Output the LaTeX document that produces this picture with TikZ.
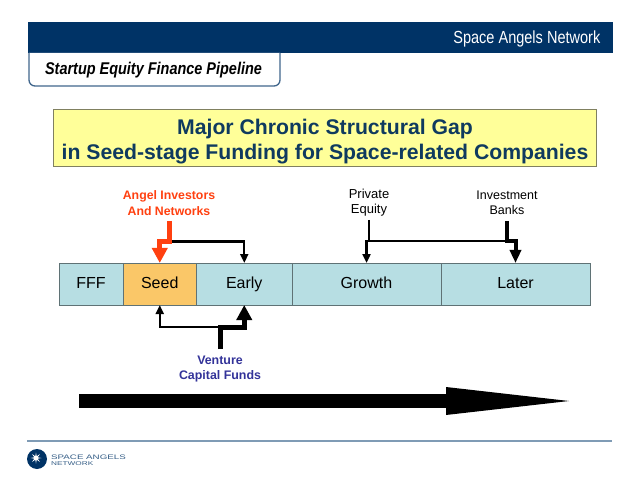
\documentclass[tikz,border=0pt]{standalone}
\usepackage{fontspec}
\setmainfont{Liberation Sans}
\usepackage{xcolor}
\usetikzlibrary{arrows.meta}
\usetikzlibrary{shapes.geometric}
\definecolor{navy}{HTML}{003366}
\definecolor{titleblue}{HTML}{0F3A5F}
\definecolor{gapyellow}{HTML}{FFFF99}
\definecolor{gapline}{HTML}{808060}
\definecolor{cellblue}{HTML}{B7DEE3}
\definecolor{cellorange}{HTML}{FAC768}
\definecolor{cellline}{HTML}{5F7275}
\definecolor{angelred}{HTML}{FF4010}
\definecolor{vcblue}{HTML}{333399}
\definecolor{footline}{HTML}{7F9BB5}
\newcommand{\px}[2]{\fontsize{#1bp}{#2bp}\selectfont}

\begin{document}
\begin{tikzpicture}[x=1bp,y=-1bp]
\tikzstyle{cell} =[draw=cellline,fill=cellblue,line width=1bp,inner sep=0pt,outer sep=0pt,minimum height=42bp,font=\px{16}{16},text height=11.5bp,text depth=3.5bp]
\tikzstyle{label} =[align=center,inner sep=0pt]
\tikzstyle{thinline} =[line width=2.4bp,-{Triangle[width=8bp,length=9bp]}]
\useasboundingbox (0,0) rectangle (638,478);
\node[fill=navy,minimum width=585bp,minimum height=31bp,inner sep=0pt](bar) at (320.5,37.5){};
\node[text=white,anchor=east,inner sep=0pt](brand) at (600.5,39){\px{17.5}{20}\addfontfeature{FakeStretch=0.83}Space Angels Network};
\draw [draw=navy!75!white,line width=1.3bp,fill=white,rounded corners=6bp] (29,53) -- (29,86) -- (280,86) -- (280,53);
\node[inner sep=0pt](pipeline) at (153.5,70.5){\px{17}{20}\addfontfeature{FakeStretch=0.85}\bfseries\itshape Startup Equity Finance Pipeline};
\node[draw=gapline,fill=gapyellow,line width=1bp,minimum width=542bp,minimum height=57bp,inner sep=0pt](gap) at (325,138.5){};
\node[label,text=titleblue,font=\px{21.2}{25}\bfseries](gaptext) at (325,141.5){Major Chronic Structural Gap\\in Seed-stage Funding for Space-related Companies};
\node[cell,minimum width=64bp](fff) at (91,284){FFF};
\node[cell,fill=cellorange,minimum width=73.5bp](seed) at (159.75,284){Seed};
\node[cell,minimum width=95.5bp](early) at (244.25,284){Early};
\node[cell,minimum width=149bp](growth) at (366.5,284){Growth};
\node[cell,minimum width=149bp](later) at (515.5,284){Later};
\node[label,text=angelred,font=\px{12.3}{16}\bfseries](angel) at (169,203){Angel Investors\\And Networks};
\node[label,font=\px{13}{15}](private) at (369,203){Private\\Equity};
\node[label,font=\px{12.5}{15}](banks) at (507,203){Investment\\Banks};
\node[label,text=vcblue,font=\px{12.4}{15}\bfseries](venture) at (220,369){Venture\\Capital Funds};
\coordinate (angeltop) at (169,221);
\coordinate (angelbend) at (169,241.5);
\coordinate (privatetop) at (369,220);
\coordinate (privatebend) at (369,241);
\coordinate (bankstop) at (507,221);
\coordinate (banksbend) at (507,241);
\coordinate (venturefoot) at (220,349);
\coordinate (venturebend) at (220,327);
\draw [thinline] (angelbend) -| (early.north);
\draw [line width=5bp,draw=angelred,-{Triangle[width=15bp,length=15bp]}] (angeltop) -- (angelbend) -| (seed.north);
\draw [thinline] (venturebend) -| (seed.south);
\draw [line width=5bp,-{Triangle[width=15bp,length=15bp]}] (venturefoot) -- (venturebend) -| (early.south);
\draw [line width=2.6bp] (privatebend) -- (banksbend);
\draw [thinline] (privatetop) -- (privatebend) -| (growth.north);
\draw [line width=4bp,-{Triangle[width=11bp,length=13bp]}] (bankstop) -- (banksbend) -| (later.north);
\coordinate (flowstart) at (79,401);
\coordinate (flowend) at (569,401);
\draw [line width=14bp,-{Triangle[width=28bp,length=123bp,line width=0pt]}] (flowstart) -- (flowend);
\coordinate (footleft) at (27,441);
\coordinate (footright) at (612,441);
\draw [draw=footline,line width=1.6bp] (footleft) -- (footright);
\node[circle,fill=navy,minimum size=20bp,inner sep=0pt](logo) at (37,459){};
\node[star,star points=8,star point ratio=3,fill=white,minimum size=11bp,inner sep=0pt](logostar) at (36,458){};
\node[anchor=west,inner sep=0pt,text=navy!80!white](logoname) at (51,457.5){\px{6.5}{7}\addfontfeature{FakeStretch=1.5}SPACE ANGELS};
\node[anchor=west,inner sep=0pt,text=navy!80!white](logonet) at (51,464){\px{5.5}{6}\addfontfeature{FakeStretch=1.5}NETWORK};
\end{tikzpicture}
\end{document}
